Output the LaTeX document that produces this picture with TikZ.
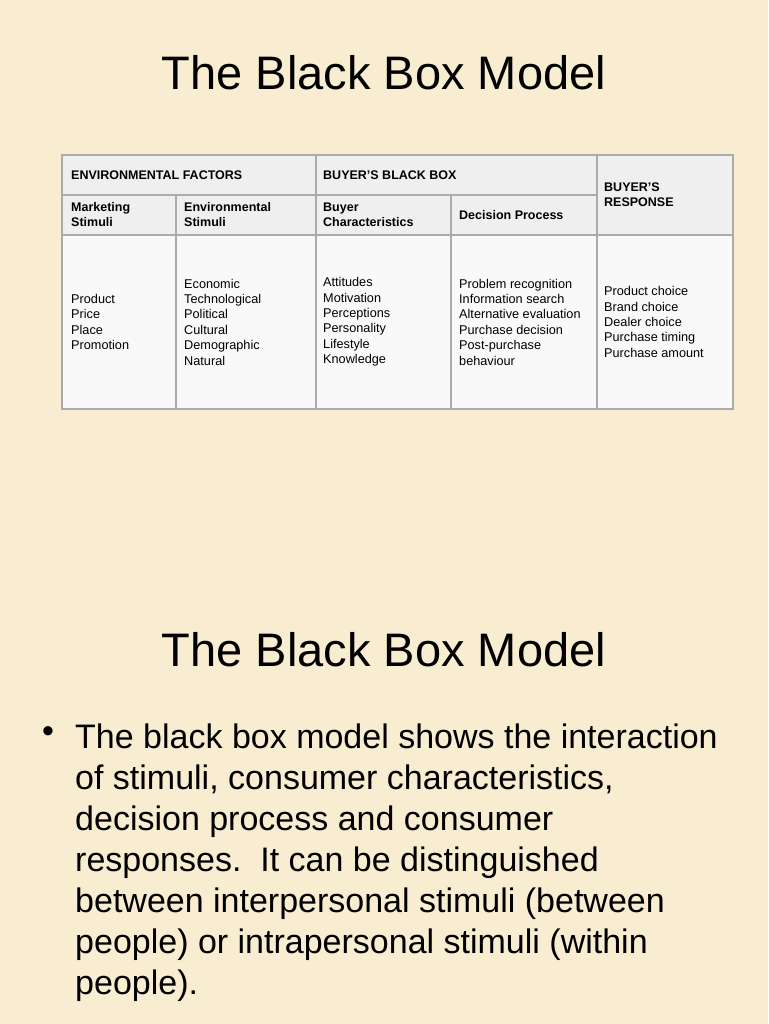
\documentclass[tikz,border=0pt]{standalone}
\usepackage{fontspec}
\setmainfont{Liberation Sans}
\definecolor{bg}{HTML}{F8EDD0}
\definecolor{hd}{HTML}{EFEFEF}
\definecolor{bd}{HTML}{F9F9F9}
\definecolor{ln}{HTML}{ABABAB}
\begin{document}
\begin{tikzpicture}[x=1pt,y=-1pt,
  cell/.style={draw=ln,line width=2pt},
  txt/.style={anchor=west,align=left,font=\fontsize{12.7}{15.4}\selectfont,inner sep=0pt},
  htxt/.style={txt,font=\fontsize{12.5}{15}\selectfont\bfseries},
  title/.style={font=\fontsize{47}{52}\selectfont}]
\useasboundingbox[fill=bg] (0,0) rectangle (768,1024);
% cells
\fill[bd] (62,235) rectangle (733,409);
\fill[hd] (62,155) rectangle (733,235);
\draw[cell] (62,155) rectangle (733,409);
\draw[cell] (62,195) -- (597,195);
\draw[cell] (62,235) -- (733,235);
\draw[cell] (176,195) -- (176,409);
\draw[cell] (316,155) -- (316,409);
\draw[cell] (451,195) -- (451,409);
\draw[cell] (597,155) -- (597,409);
\node[title] (t1) at (384,73) {The Black Box Model};
\node[title] (t2) at (384,650) {The Black Box Model};
\node[htxt] (h1) at (71,175) {ENVIRONMENTAL FACTORS};
\node[htxt] (h2) at (323,175) {BUYER'S BLACK BOX};
\node[htxt] (h3) at (604,194.5) {BUYER'S\\RESPONSE};
\node[htxt] (h4) at (71,215) {Marketing\\Stimuli};
\node[htxt] (h5) at (184,215) {Environmental\\Stimuli};
\node[htxt] (h6) at (323,215) {Buyer\\Characteristics};
\node[htxt] (h7) at (459,215) {Decision Process};
\node[txt] (c1) at (71,322) {Product\\Price\\Place\\Promotion};
\node[txt] (c2) at (184,322) {Economic\\Technological\\Political\\Cultural\\Demographic\\Natural};
\node[txt] (c3) at (323,322) {Attitudes\\Motivation\\Perceptions\\Personality\\Lifestyle\\Knowledge};
\node[txt] (c4) at (459,322) {Problem recognition\\Information search\\Alternative evaluation\\Purchase decision\\Post-purchase\\behaviour};
\node[txt] (c5) at (604,322) {Product choice\\Brand choice\\Dealer choice\\Purchase timing\\Purchase amount};
\node[anchor=north west,inner sep=0pt,font=\fontsize{34}{41}\selectfont] (bul) at (42,726) {•};
\node[anchor=north west,inner sep=0pt,align=left,font=\fontsize{34}{41}\selectfont] (para) at (75,724) {The black box model shows the interaction\\of stimuli, consumer characteristics,\\decision process and consumer\\responses.\ \ It can be distinguished\\between interpersonal stimuli (between\\people) or intrapersonal stimuli (within\\people).};
\end{tikzpicture}
\end{document}
